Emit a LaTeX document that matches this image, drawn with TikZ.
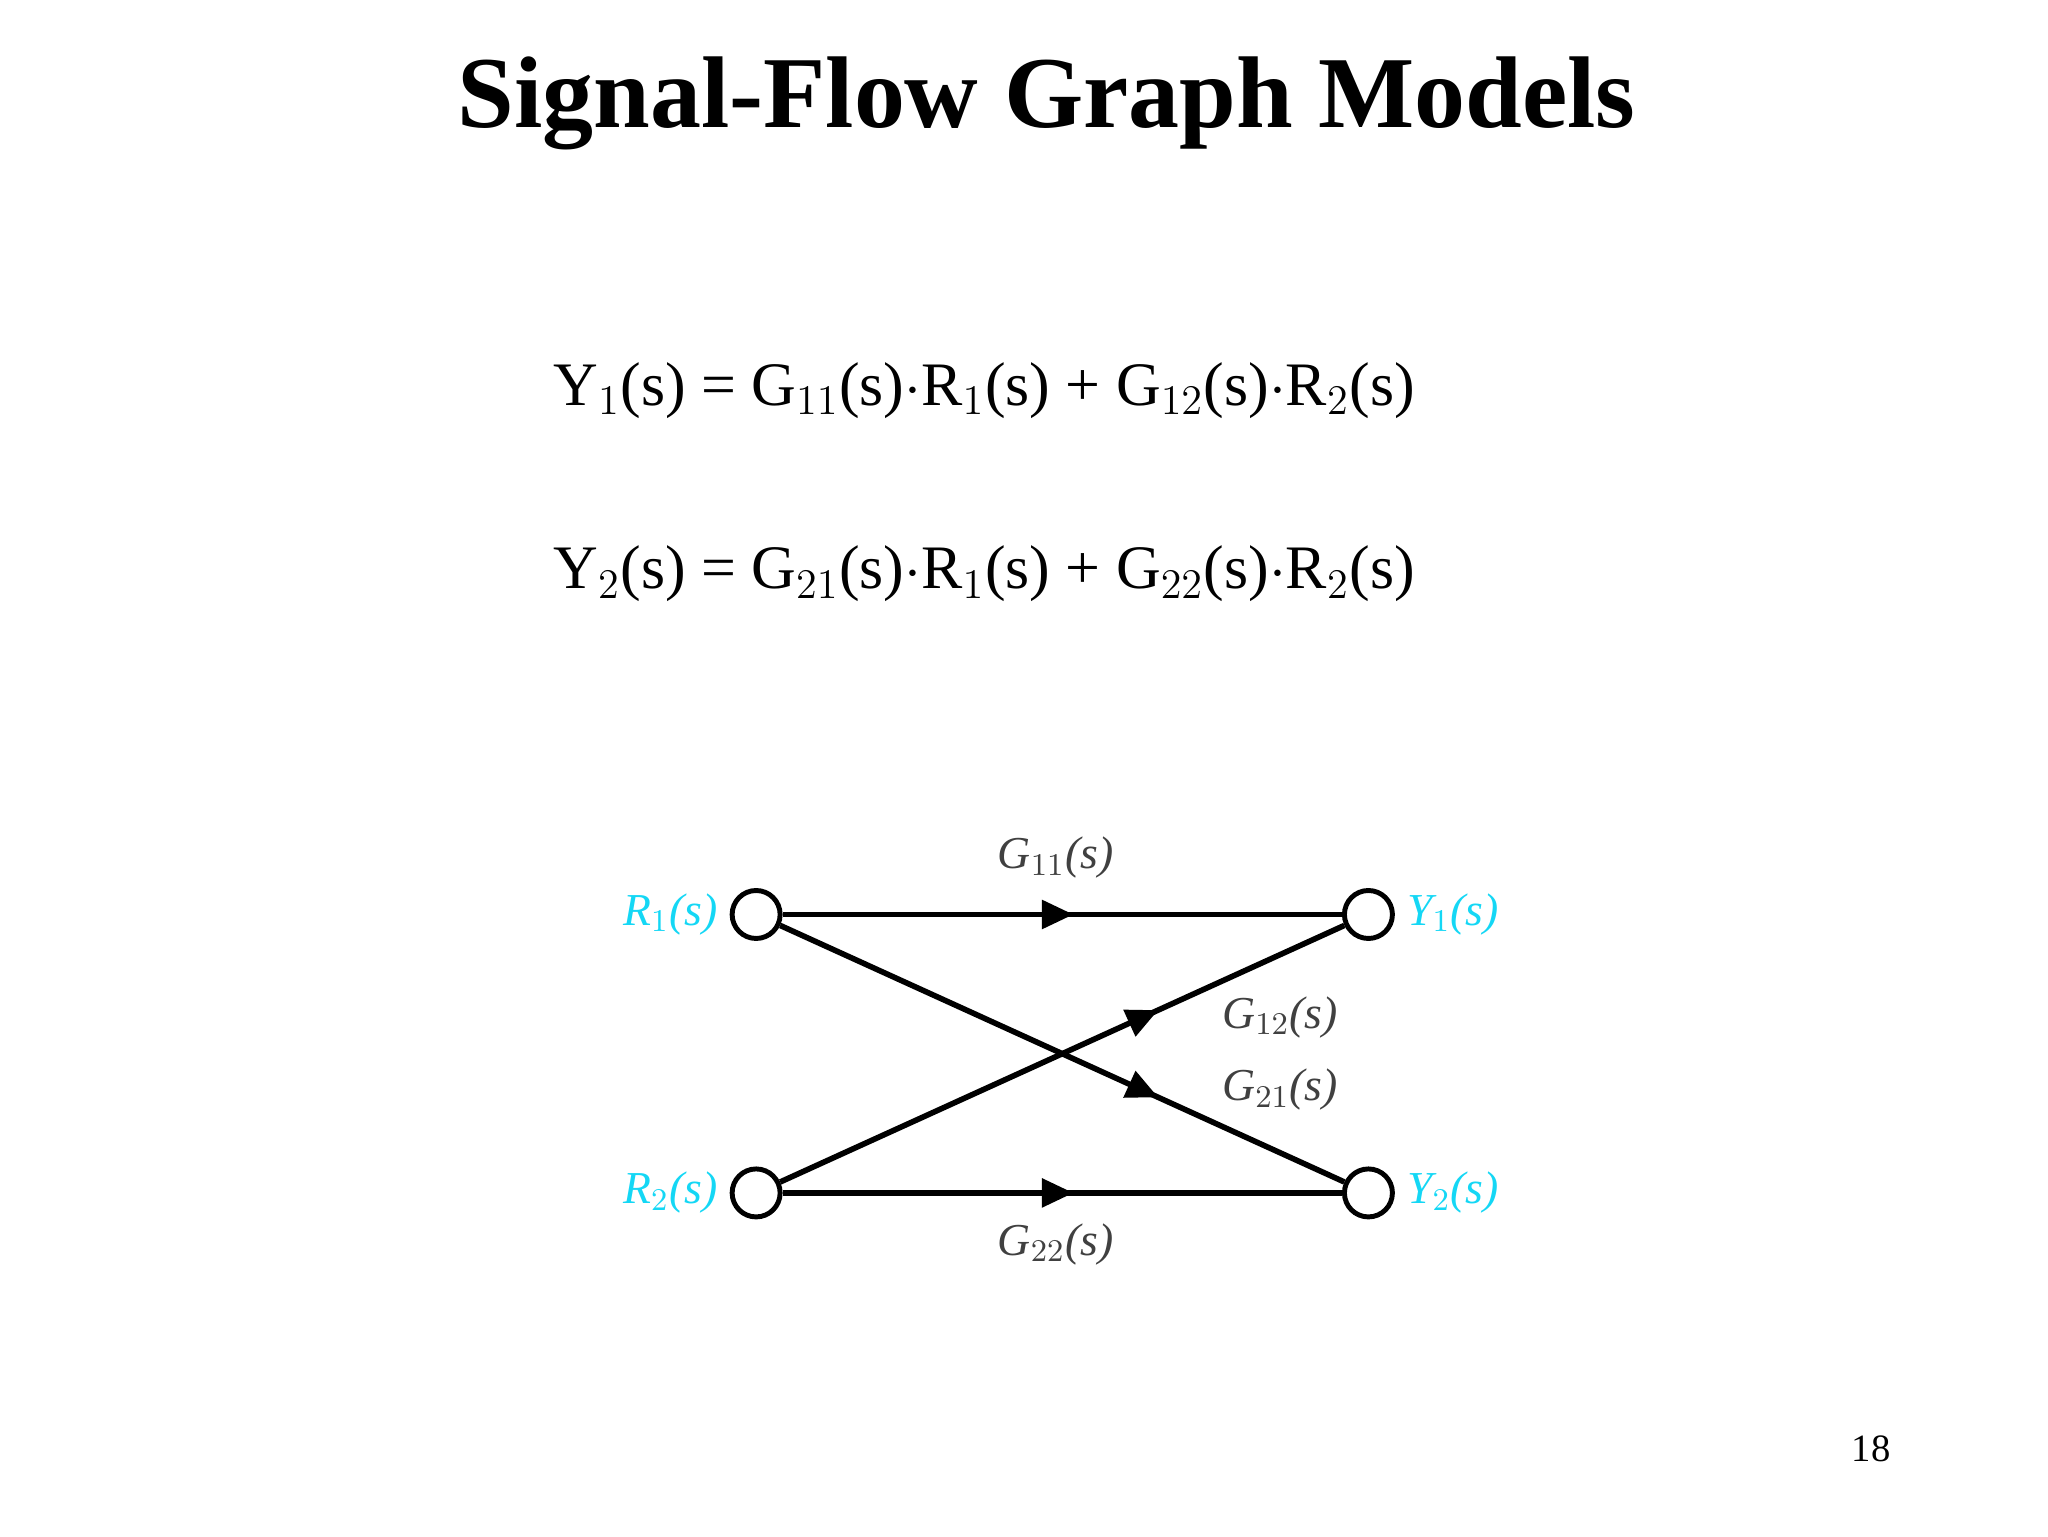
\documentclass[tikz,border=0pt]{standalone}
\usepackage{fontspec}
\setmainfont{Liberation Serif}
\usetikzlibrary{arrows.meta,decorations.markings}
\definecolor{lcyan}{RGB}{20,215,245}
\begin{document}
\begin{tikzpicture}[x=0.013196cm,y=-0.013196cm,
  nd/.style={circle,draw,line width=1.4pt,inner sep=0pt,minimum size=0.48cm},
  br/.style={line width=1.6pt,postaction={decorate},decoration={markings,mark=at position #1 with {\arrow{Triangle[length=9pt,width=8pt]}}}},
  gl/.style={font=\fontsize{13}{15}\selectfont\itshape,text=black!75},
  sl/.style={font=\fontsize{13}{15}\selectfont\itshape,text=lcyan}]
\useasboundingbox (0,0) rectangle (1552,1164);
\node[font=\fontsize{29}{34}\selectfont\bfseries] (title) at (793,78) {Signal-Flow Graph Models};
\node[font=\fontsize{17.6}{20}\selectfont,anchor=west] (e1) at (410,296) {Y$_1$(s) = G$_{11}$(s)$\cdot$R$_1$(s) + G$_{12}$(s)$\cdot$R$_2$(s)};
\node[font=\fontsize{17.6}{20}\selectfont,anchor=west] (e2) at (410,435) {Y$_2$(s) = G$_{21}$(s)$\cdot$R$_1$(s) + G$_{22}$(s)$\cdot$R$_2$(s)};
\node[nd] (r1) at (573,693) {};
\node[nd] (y1) at (1037,693) {};
\node[nd] (r2) at (573,904) {};
\node[nd] (y2) at (1037,904) {};
\node[sl,anchor=east] (lr1) at (553,693) {R$_1$(\textit{s})};
\node[sl,anchor=east] (lr2) at (553,904) {R$_2$(\textit{s})};
\node[sl,anchor=west] (ly1) at (1057,693) {Y$_1$(\textit{s})};
\node[sl,anchor=west] (ly2) at (1057,904) {Y$_2$(\textit{s})};
\draw[br=0.52] (r1) -- (y1);
\draw[br=0.52] (r2) -- (y2);
\draw[br=0.67] (r1) -- (y2);
\draw[br=0.67] (r2) -- (y1);
\node[gl] (g11) at (800,650) {G$_{11}$(s)};
\node[gl] (g12) at (970,771) {G$_{12}$(s)};
\node[gl] (g21) at (970,826) {G$_{21}$(s)};
\node[gl] (g22) at (800,943) {G$_{22}$(s)};
\node[font=\fontsize{11}{13}\selectfont] (pg) at (1418,1098) {18};
\end{tikzpicture}
\end{document}
